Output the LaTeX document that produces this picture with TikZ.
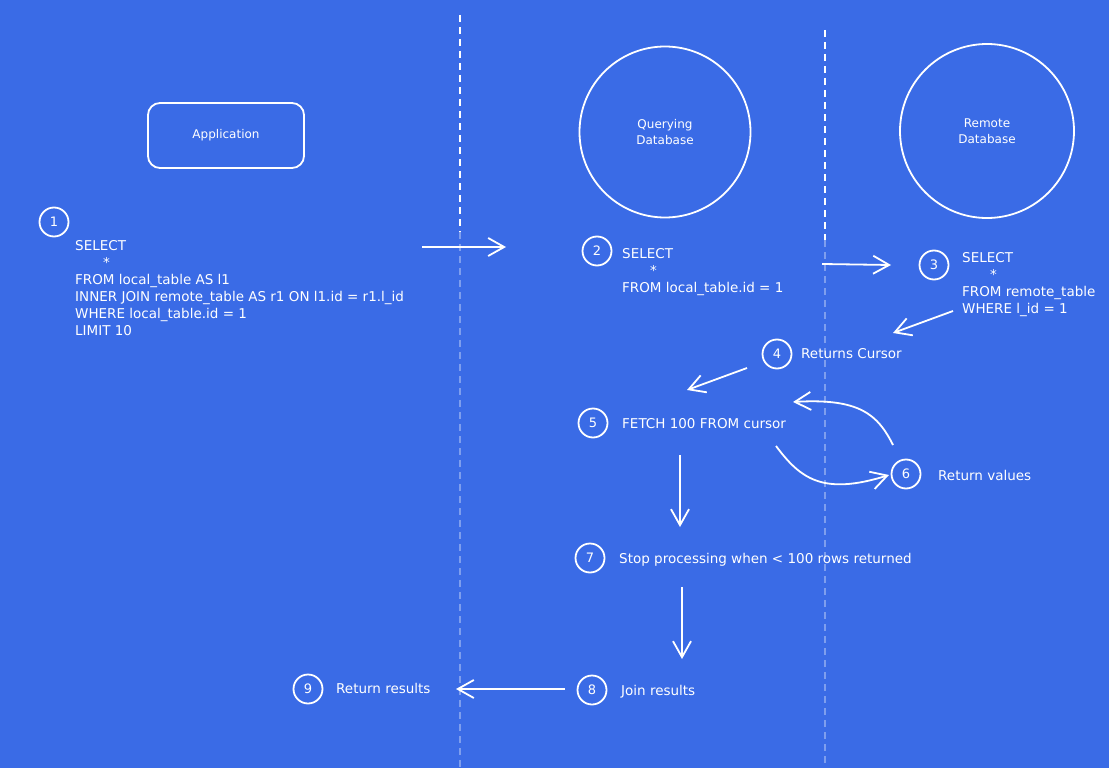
\documentclass[tikz,border=0pt]{standalone}
\usepackage{fontspec}
\setmainfont{DejaVu Sans}
\usetikzlibrary{arrows.meta}
\definecolor{bgblue}{RGB}{58,107,230}

\begin{document}
\begin{tikzpicture}[x=1pt,y=-1pt,
		every node/.style={text=white},
		num/.style={draw=white,line width=1.8pt,circle,minimum size=29pt,inner sep=0pt,font=\fontsize{13}{14}\selectfont},
		txt/.style={anchor=base west,inner sep=0pt,font=\fontsize{13.5}{17}\selectfont},
		code/.style={anchor=north west,align=left,inner sep=0pt,font=\fontsize{13.5}{17}\selectfont},
		arr/.style={white,line width=1.8pt,-{Straight Barb[length=16pt,width=18pt,line width=1.8pt]}},
		lane/.style={white,line width=1.4pt,dash pattern=on 7pt off 5pt}]
		\fill[bgblue] (0,0) rectangle (1109,768);
		\useasboundingbox (0,0) rectangle (1109,768);
		% lanes
		\draw[lane] (460,15) -- (460,232);
		\draw[lane,opacity=0.35] (460,232) -- (460,768);
		\draw[lane] (825,30) -- (825,240);
		\draw[lane,opacity=0.35] (825,240) -- (825,768);
		% actors
		\node[draw=white,line width=1.8pt,rounded corners=12pt,minimum width=156pt,minimum height=65pt,font=\fontsize{12}{14}\selectfont] (app) at (226,135.5) {Application};
		\node[draw=white,line width=1.8pt,circle,minimum size=171pt,align=center,font=\fontsize{12}{16}\selectfont] (qdb) at (665,132) {Querying\\Database};
		\node[draw=white,line width=1.8pt,circle,minimum size=174pt,align=center,font=\fontsize{12}{16}\selectfont] (rdb) at (987,131) {Remote\\Database};
		% steps
		\node[num] (s1) at (54,222) {1};
		\node[code] (q1) at (75,240) {SELECT\\\hspace*{28pt}*\\FROM local\_table AS l1\\INNER JOIN remote\_table AS r1 ON l1.id = r1.l\_id\\WHERE local\_table.id = 1\\LIMIT 10};
		\node[num] (s2) at (597,251) {2};
		\node[code] (q2) at (622,248) {SELECT\\\hspace*{28pt}*\\FROM local\_table.id = 1};
		\node[num] (s3) at (934,265) {3};
		\node[code] (q3) at (962,252) {SELECT\\\hspace*{28pt}*\\FROM remote\_table\\WHERE l\_id = 1};
		\node[num] (s4) at (777,354) {4};
		\node[txt] (q4) at (801,358) {Returns Cursor};
		\node[num] (s5) at (593,423) {5};
		\node[txt] (q5) at (622,428) {FETCH 100 FROM cursor};
		\node[num] (s6) at (906,474) {6};
		\node[txt] (q6) at (938,480) {Return values};
		\node[num] (s7) at (590,558) {7};
		\node[txt] (q7) at (619,563) {Stop processing when < 100 rows returned};
		\node[num] (s8) at (592,690) {8};
		\node[txt] (q8) at (621,695) {Join results};
		\node[num] (s9) at (308,689) {9};
		\node[txt] (q9) at (336,693) {Return results};
		% arrow ends
		\coordinate (a1) at (422,247);
		\coordinate (a2) at (506,247);
		\coordinate (b2) at (822,264);
		\coordinate (b3) at (891,265);
		\coordinate (c3) at (953,311);
		\coordinate (c4) at (893,333);
		\coordinate (d4) at (747,368);
		\coordinate (d5) at (687,390);
		\coordinate (e5) at (776,446);
		\coordinate (e6) at (889,475);
		\coordinate (f6) at (893,445);
		\coordinate (f5) at (793,402);
		\coordinate (g5) at (680,455);
		\coordinate (g7) at (680,527);
		\coordinate (h7) at (682,587);
		\coordinate (h8) at (682,659);
		\coordinate (i8) at (565,689);
		\coordinate (i9) at (456,689);
		% arrows
		\draw[arr] (a1) -- (a2);
		\draw[arr] (b2) -- (b3);
		\draw[arr] (c3) -- (c4);
		\draw[arr] (d4) -- (d5);
		\draw[arr] (e5) .. controls (800,478) and (822,496) .. (e6);
		\draw[arr] (f6) .. controls (878,415) and (860,398) .. (f5);
		\draw[arr] (g5) -- (g7);
		\draw[arr] (h7) -- (h8);
		\draw[arr] (i8) -- (i9);
\end{tikzpicture}
\end{document}
